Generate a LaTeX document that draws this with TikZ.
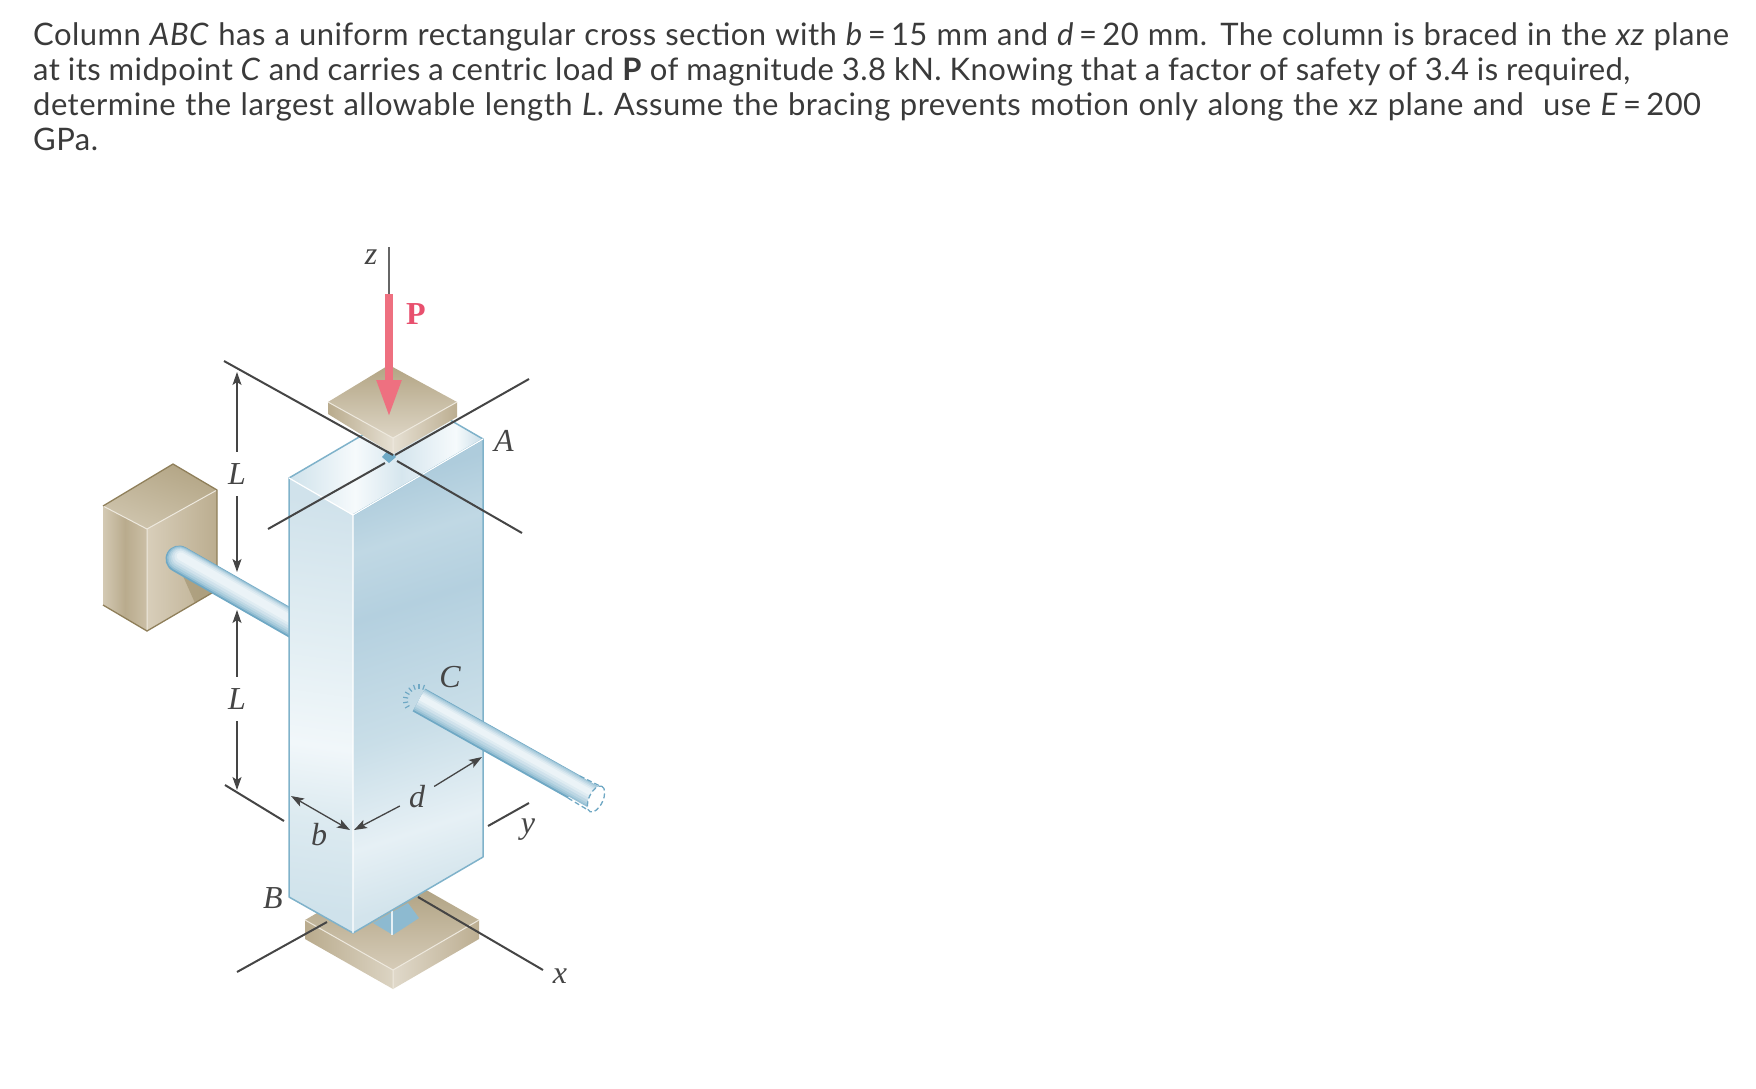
\documentclass[tikz,border=0pt]{standalone}
\usepackage{fontspec}
\setmainfont[LetterSpace=1.5]{Lato}
\newfontfamily\labelfont{Liberation Serif}
\usetikzlibrary{arrows.meta,calc}
\definecolor{inktext}{HTML}{3A3A3A}
\definecolor{inkaxis}{HTML}{454545}
\definecolor{coledge}{HTML}{7FB2CA}
\definecolor{roddark}{HTML}{6FA8C4}
\definecolor{tanedge}{HTML}{8F7F5A}
\definecolor{tanlite}{HTML}{EEE9DE}
\definecolor{loadred}{HTML}{EE7080}
\definecolor{loadtext}{HTML}{E8506E}
\newcommand{\hexcolor}[1]{\definecolor{#1}{HTML}{#1}}
\hexcolor{C5DCE7}\hexcolor{DCEAF0}\hexcolor{F1F7FA}\hexcolor{DFECF2}\hexcolor{CFE2EB}
\hexcolor{D3E4EC}\hexcolor{E6F0F5}\hexcolor{C9DEE8}\hexcolor{AECCDC}\hexcolor{BAD4E1}\hexcolor{A9C9DA}
\hexcolor{F6FAFC}\hexcolor{D6E6EE}\hexcolor{D3C9B3}\hexcolor{B9AB8D}\hexcolor{CBBFA6}
\hexcolor{B3A585}\hexcolor{CFC5AE}\hexcolor{D8CEBA}\hexcolor{BBAD8F}\hexcolor{A59774}
\hexcolor{A89A78}\hexcolor{D6CCB8}\hexcolor{DCD4C3}\hexcolor{E0D9CA}\hexcolor{BCAE91}
\hexcolor{8DBAD0}\hexcolor{E5F0F5}\hexcolor{6FAAC6}\hexcolor{B2A483}\hexcolor{DDD5C5}\hexcolor{E6E0D3}\hexcolor{666666}
\hexcolor{E2EEF3}\hexcolor{D0E2EB}\hexcolor{B4D0DF}\hexcolor{C0D8E4}
\pgfdeclareverticalshading{faceleft}{100bp}{color(0bp)=(CFE2EB);color(25bp)=(CFE2EB);color(36bp)=(DCEAF0);color(45bp)=(F1F7FA);color(58bp)=(E2EEF3);color(75bp)=(D0E2EB);color(100bp)=(D0E2EB)}
\pgfdeclareverticalshading{faceright}{100bp}{color(0bp)=(D3E4EC);color(25bp)=(D3E4EC);color(33bp)=(E6F0F5);color(45bp)=(C9DEE8);color(60bp)=(B4D0DF);color(68bp)=(C0D8E4);color(75bp)=(AECCDC);color(100bp)=(AECCDC)}
\pgfdeclarehorizontalshading{facetop}{100bp}{color(0bp)=(CFE2EB);color(25bp)=(CFE2EB);color(42bp)=(F6FAFC);color(54bp)=(D6E6EE);color(68bp)=(F6FAFC);color(75bp)=(C9DEE8);color(100bp)=(C9DEE8)}
\pgfdeclarehorizontalshading{blockleft}{100bp}{color(0bp)=(D3C9B3);color(25bp)=(D3C9B3);color(50bp)=(B9AB8D);color(75bp)=(CBBFA6);color(100bp)=(CBBFA6)}
\begin{document}
\begin{tikzpicture}[x=1pt,y=-1pt,
        prose/.style={anchor=base west,inner sep=0pt,text=inktext,font=\fontsize{31}{35}\selectfont},
        axisline/.style={draw=inkaxis,line width=2pt},
        dimline/.style={draw=inkaxis,line width=1.3pt,>={Stealth[length=13pt,width=9pt,inset=3pt]}},
        letter/.style={inner sep=0pt,text=inkaxis,font=\labelfont\fontsize{32}{32}\selectfont\itshape},
        gaplabel/.style={letter,minimum height=44pt,minimum width=34pt},
        colline/.style={draw=coledge,line width=1.5pt,line join=round},
        inner/.style={draw=white,line width=1.2pt},
        tanface/.style={draw=tanlite,line width=1pt,line join=round}]
    \useasboundingbox (0,0) rectangle (1756,1088);

    \node[prose](line1)at(33,45){\makebox[1696pt][s]{Column \textit{ABC} has a uniform rectangular cross section with \textit{b}\,=\,15 mm and \textit{d}\,=\,20 mm. The column is braced in the \textit{xz} plane}};
    \node[prose](line2)at(33,80){\makebox[1597pt][s]{at its midpoint \textit{C} and carries a centric load \textbf{P} of magnitude 3.8 kN. Knowing that a factor of safety of 3.4 is required,}};
    \node[prose](line3)at(33,115){\makebox[1668pt][s]{determine the largest allowable length \textit{L}. Assume the bracing prevents motion only along the xz plane and\ \ use \textit{E}\,=\,200}};
    \node[prose](line4)at(33,150){GPa.};

    % corners
    \coordinate (colL) at (289,478);
    \coordinate (colF) at (353,515);
    \coordinate (colR) at (483,439);
    \coordinate (colB) at (419,402);
    \coordinate (colLb) at (289,897);
    \coordinate (colFb) at (353,933);
    \coordinate (colRb) at (483,857);
    \coordinate (padT) at (389,365);
    \coordinate (padR) at (457,402);
    \coordinate (padL) at (328,402);
    \coordinate (padF) at (393,438);
    \coordinate (padFb) at (393,454);
    \coordinate (padRb) at (457,417);
    \coordinate (padLb) at (328,414);
    \coordinate (baseB) at (391,870);
    \coordinate (baseR) at (479,920);
    \coordinate (baseL) at (305,920);
    \coordinate (baseF) at (393,970);
    \coordinate (baseFb) at (393,989);
    \coordinate (baseRb) at (479,939);
    \coordinate (baseLb) at (305,939);
    \coordinate (wallT) at (173,464);
    \coordinate (wallR) at (217,490);
    \coordinate (wallF) at (147,529);
    \coordinate (wallL) at (103,506);
    \coordinate (wallLb) at (103,605);
    \coordinate (wallFb) at (147,631);
    \coordinate (wallRb) at (217,590);

    % wall block
    \shade[top color=B3A585,bottom color=CFC5AE,shading angle=-20] (wallT)--(wallR)--(wallF)--(wallL)--cycle;
    \shade[shading=blockleft] (wallL)--(wallF)--(wallFb)--(wallLb)--cycle;
    \shade[left color=D8CEBA,right color=BBAD8F] (wallF)--(wallR)--(wallRb)--(wallFb)--cycle;
    \fill[A59774,opacity=.7] (183,576)--(217,590)--(195,603)--cycle;
    \draw[tanface] (wallL)--(wallF)--(wallR) (wallF)--(wallFb);
    \draw[draw=tanedge,line width=1.3pt] (wallL)--(wallT)--(wallR)--(wallRb)--(wallFb)--(wallLb);

    % left brace
    \coordinate (braceA) at (179,559);
    \coordinate (braceB) at (296,626);
    \foreach \wd/\mx/\off in {27/100/0,24.5/75/0.6,22/58/1,19/45/1.6,16/33/2.2,12/22/2.8,8/14/3.2}
        \draw[roddark!\mx!white,line width=\wd pt,line cap=round] ($(braceA)+(\off*.5,-\off*.87)$)--($(braceB)+(\off*.5,-\off*.87)$);

    % base plate
    \shade[top color=A89A78,bottom color=D6CCB8] (baseB)--(baseR)--(baseF)--(baseL)--cycle;
    \shade[left color=B9AB8D,right color=DCD4C3] (baseL)--(baseF)--(baseFb)--(baseLb)--cycle;
    \shade[left color=E0D9CA,right color=BCAE91] (baseF)--(baseR)--(baseRb)--(baseFb)--cycle;
    \draw[tanface] (baseL)--(baseF)--(baseR) (baseF)--(baseFb);
    \fill[8DBAD0] (373,923)--(393,935)--(419,918)--(408,903)--cycle;
    \draw[draw=E5F0F5,line width=1.2pt] (392,908)--(392,935);
    \coordinate (xEnd) at (543,970);
    \coordinate (xStart) at (418,897);
    \coordinate (yLow) at (237,972);
    \coordinate (yUp) at (327,922);
    \draw[axisline] (xStart)--(xEnd);
    \draw[axisline] (yUp)--(yLow);

    % column
    \shade[shading=faceright,shading angle=18] (colF)--(colR)--(colRb)--(colFb)--cycle;
    \shade[shading=faceleft,shading angle=-8] (colL)--(colF)--(colFb)--(colLb)--cycle;
    \shade[shading=facetop] (colL)--(colB)--(colR)--(colF)--cycle;
    \draw[colline] (colF)--(colR)--(colRb)--(colFb)--(colLb)--(colL)--(colB)--(colR);
    \draw[inner] (colL)--(colF)--(colR) (colF)--(colFb);
    \fill[6FAAC6] (389,449)--(396,457)--(389,463)--(382,457)--cycle;

    % far brace
    \coordinate (rodA) at (419,700);
    \coordinate (rodB) at (574,787);
    \coordinate (rodC) at (596,799);
    \draw[roddark,line width=26pt] (rodA)--(rodB);
    \foreach \wd/\mx/\off in {23.5/72/0.5,21/58/1,18/46/1.4,14/33/2,10/22/2.6,6/14/3}
        \draw[roddark!\mx!white,line width=\wd pt] ($(rodA)+(\off*.5,-\off*.87)$)--($(rodC)+(\off*.5,-\off*.87)$);
    \foreach \ang in {150,170,...,290}
        \draw[draw=roddark,line width=1.2pt] ($(rodA)+(\ang:11)$)--($(rodA)+(\ang:16)$);
    \draw[roddark,line width=1.3pt,dash pattern=on 5pt off 3pt] (rodB)++(6,-11)--(602,787) (rodB)++(-6,11)--(588,810);
    \draw[roddark,fill=white,line width=1.3pt,dash pattern=on 5pt off 3pt,rotate around={65:(rodC)}] (rodC) ellipse (14 and 7);

    % axes over the column
    \coordinate (braceXa) at (224,361);
    \coordinate (braceXb) at (393,455);
    \coordinate (braceXc) at (397,461);
    \coordinate (braceXd) at (522,533);
    \coordinate (braceYa) at (268,529);
    \coordinate (braceYb) at (385,463);
    \coordinate (braceYc) at (395,455);
    \coordinate (braceYd) at (529,379);
    \coordinate (yStub) at (488,826);
    \coordinate (yTip) at (529,803);
    \coordinate (extA) at (225,785);
    \coordinate (extB) at (284,821);
    \draw[axisline] (braceXc)--(braceXd);
    \draw[axisline] (braceYa)--(braceYb);
    \draw[axisline] (yStub)--(yTip);
    \draw[axisline] (extA)--(extB);

    % pad on top
    \shade[top color=B2A483,bottom color=DDD5C5] (padT)--(padR)--(padF)--(padL)--cycle;
    \shade[left color=B9AB8D,right color=E6E0D3] (padL)--(padF)--(padFb)--(padLb)--cycle;
    \shade[left color=E6E0D3,right color=BCAE91] (padF)--(padR)--(padRb)--(padFb)--cycle;
    \draw[tanface] (padL)--(padF)--(padR) (padF)--(padFb);
    \draw[axisline] (braceXa)--(braceXb);
    \draw[axisline] (braceYc)--(braceYd);

    % load
    \coordinate (zTop) at (389,247);
    \coordinate (loadTop) at (389,294);
    \coordinate (loadTip) at (389,417);
    \draw[draw=666666,line width=2pt] (zTop)--(loadTop);
    \draw[-{Triangle[length=37pt,width=23pt]},loadred,line width=8pt] (loadTop)--(loadTip);
    \node[inner sep=0pt,text=loadtext,font=\labelfont\fontsize{32}{32}\selectfont\bfseries](Pname)at(416,314){P};

    \node[letter](zname)at(371,257){z};
    \node[letter](Aname)at(504,441){A};
    \node[letter](Bname)at(273,898){B};
    \node[letter](Cname)at(450,677){C};
    \node[letter](xname)at(560,976){x};
    \node[letter](yname)at(528,830){y};
    \node[letter](bname)at(319,835){b};

    % dimensions
    \coordinate (Ltip1) at (237,372);
    \coordinate (Ltip2) at (237,572);
    \coordinate (Ltip3) at (237,610);
    \coordinate (Ltip4) at (237,790);
    \node[gaplabel](Lupper)at(237,474){L};
    \node[gaplabel](Llower)at(237,699){L};
    \draw[dimline,->] (Lupper)--(Ltip1);
    \draw[dimline,->] (Lupper)--(Ltip2);
    \draw[dimline,->] (Llower)--(Ltip3);
    \draw[dimline,->] (Llower)--(Ltip4);
    \coordinate (bTipA) at (291,796);
    \coordinate (bTipB) at (350,830);
    \coordinate (dTipA) at (354,830);
    \coordinate (dTipB) at (482,757);
    \draw[dimline,<->] (bTipA)--(bTipB);
    \node[gaplabel,minimum height=34pt](dname)at(417,797){d};
    \draw[dimline,->] (dname)--(dTipA);
    \draw[dimline,->] (dname)--(dTipB);
\end{tikzpicture}
\end{document}
